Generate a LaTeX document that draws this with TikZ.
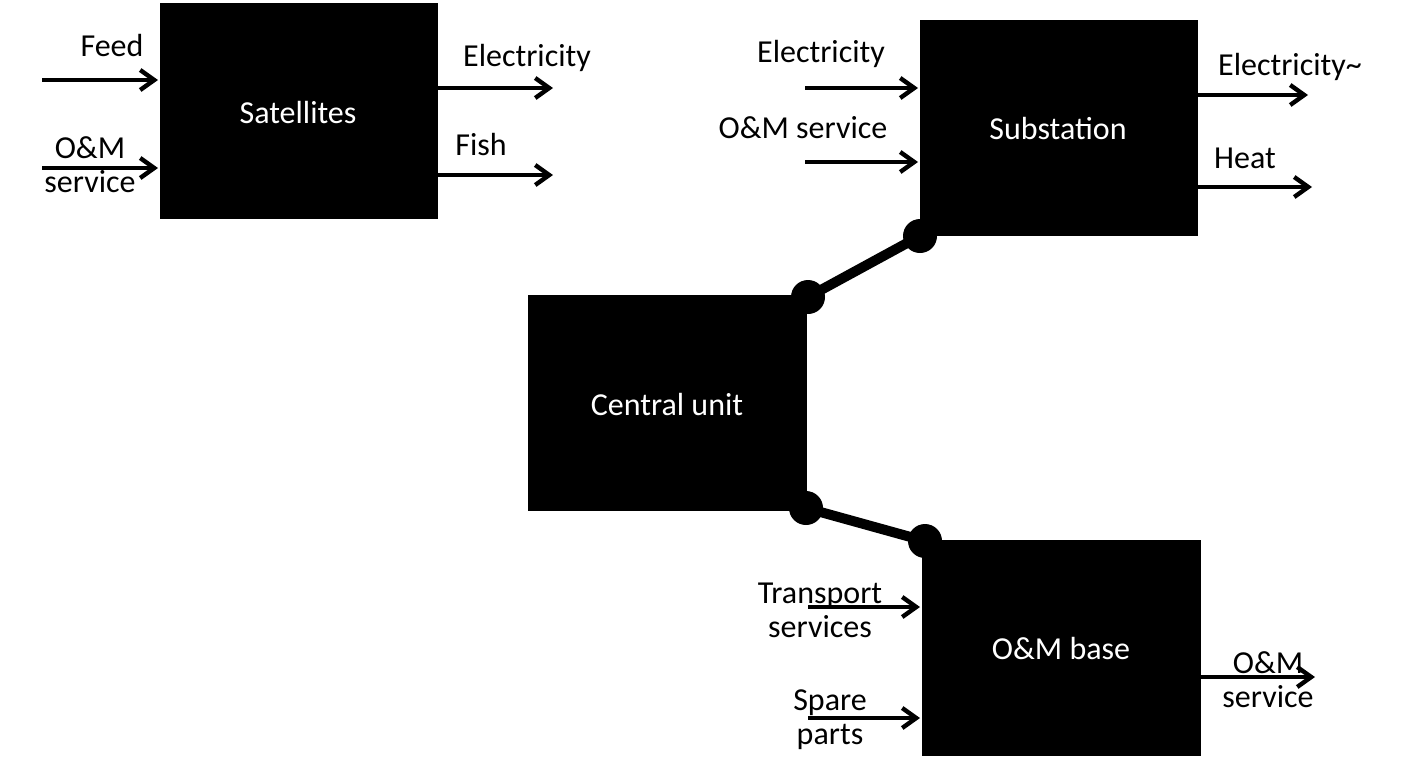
\documentclass[tikz,border=0pt]{standalone}
\usepackage{fontspec}
\setmainfont{Carlito}
\usetikzlibrary{arrows.meta}
\begin{document}
\begin{tikzpicture}[x=0.5pt,y=-0.5pt,
  box/.style={fill=black,draw=black,text=white,font=\fontsize{16}{18}\selectfont},
  lab/.style={font=\fontsize{16}{17}\selectfont,inner sep=0pt,align=center},
  arr/.style={line width=2.2pt,-{Straight Barb[length=7pt,width=10pt]}},
  link/.style={line width=5pt},
  dot/.style={circle,fill=black,minimum size=17pt,inner sep=0pt}]
\useasboundingbox (0,0) rectangle (1412,773);
\fill[white] (0,0) rectangle (1412,773);
\path[box] (160,3) rectangle (437,218);
\node[text=white,font=\fontsize{16}{18}\selectfont] (sat) at (298,112) {Satellites};
\path[box] (920,20) rectangle (1197,235);
\node[text=white,font=\fontsize{16}{18}\selectfont] (sub) at (1058,128) {Substation};
\path[box] (528,295) rectangle (806,510);
\node[text=white,font=\fontsize{16}{18}\selectfont] (cu) at (667,404) {Central unit};
\path[box] (922,540) rectangle (1200,755);
\node[text=white,font=\fontsize{16}{18}\selectfont] (om) at (1061,648) {O\&M base};
% satellites
\coordinate (a1) at (42,80); \coordinate (b1) at (158,80);
\draw[arr] (a1) -- (b1);
\node[lab] (l1) at (112,45) {Feed};
\coordinate (a2) at (42,168); \coordinate (b2) at (158,168);
\draw[arr] (a2) -- (b2);
\node[lab] (l2) at (90,165) {O\&M\\service};
\coordinate (a3) at (438,88); \coordinate (b3) at (553,88);
\draw[arr] (a3) -- (b3);
\node[lab] (l3) at (527,58) {Electricity};
\coordinate (a4) at (438,175); \coordinate (b4) at (553,175);
\draw[arr] (a4) -- (b4);
\node[lab] (l4) at (481,144) {Fish};
% substation
\coordinate (a5) at (805,88); \coordinate (b5) at (918,88);
\draw[arr] (a5) -- (b5);
\node[lab] (l5) at (821,54) {Electricity};
\coordinate (a6) at (805,162); \coordinate (b6) at (918,162);
\draw[arr] (a6) -- (b6);
\node[lab] (l6) at (803,128) {O\&M service};
\coordinate (a7) at (1198,95); \coordinate (b7) at (1308,95);
\draw[arr] (a7) -- (b7);
\node[lab] (l7) at (1290,67) {Electricity\textasciitilde};
\coordinate (a8) at (1198,187); \coordinate (b8) at (1312,187);
\draw[arr] (a8) -- (b8);
\node[lab] (l8) at (1245,158) {Heat};
% O&M base
\coordinate (a9) at (808,607); \coordinate (b9) at (920,607);
\draw[arr] (a9) -- (b9);
\node[lab] (l9) at (820,610) {Transport\\services};
\coordinate (a10) at (808,718); \coordinate (b10) at (920,718);
\draw[arr] (a10) -- (b10);
\node[lab] (l10) at (830,720) {Spare\\parts};
\coordinate (a11) at (1200,677); \coordinate (b11) at (1315,677);
\draw[arr] (a11) -- (b11);
\node[lab] (l11) at (1268,680) {O\&M\\service};
% links
\node[dot] (d1) at (920,236) {};
\node[dot] (d2) at (808,297) {};
\node[dot] (d3) at (806,508) {};
\node[dot] (d4) at (925,541) {};
\draw[link] (d1.center) -- (d2.center);
\draw[link] (d3.center) -- (d4.center);
\end{tikzpicture}
\end{document}
